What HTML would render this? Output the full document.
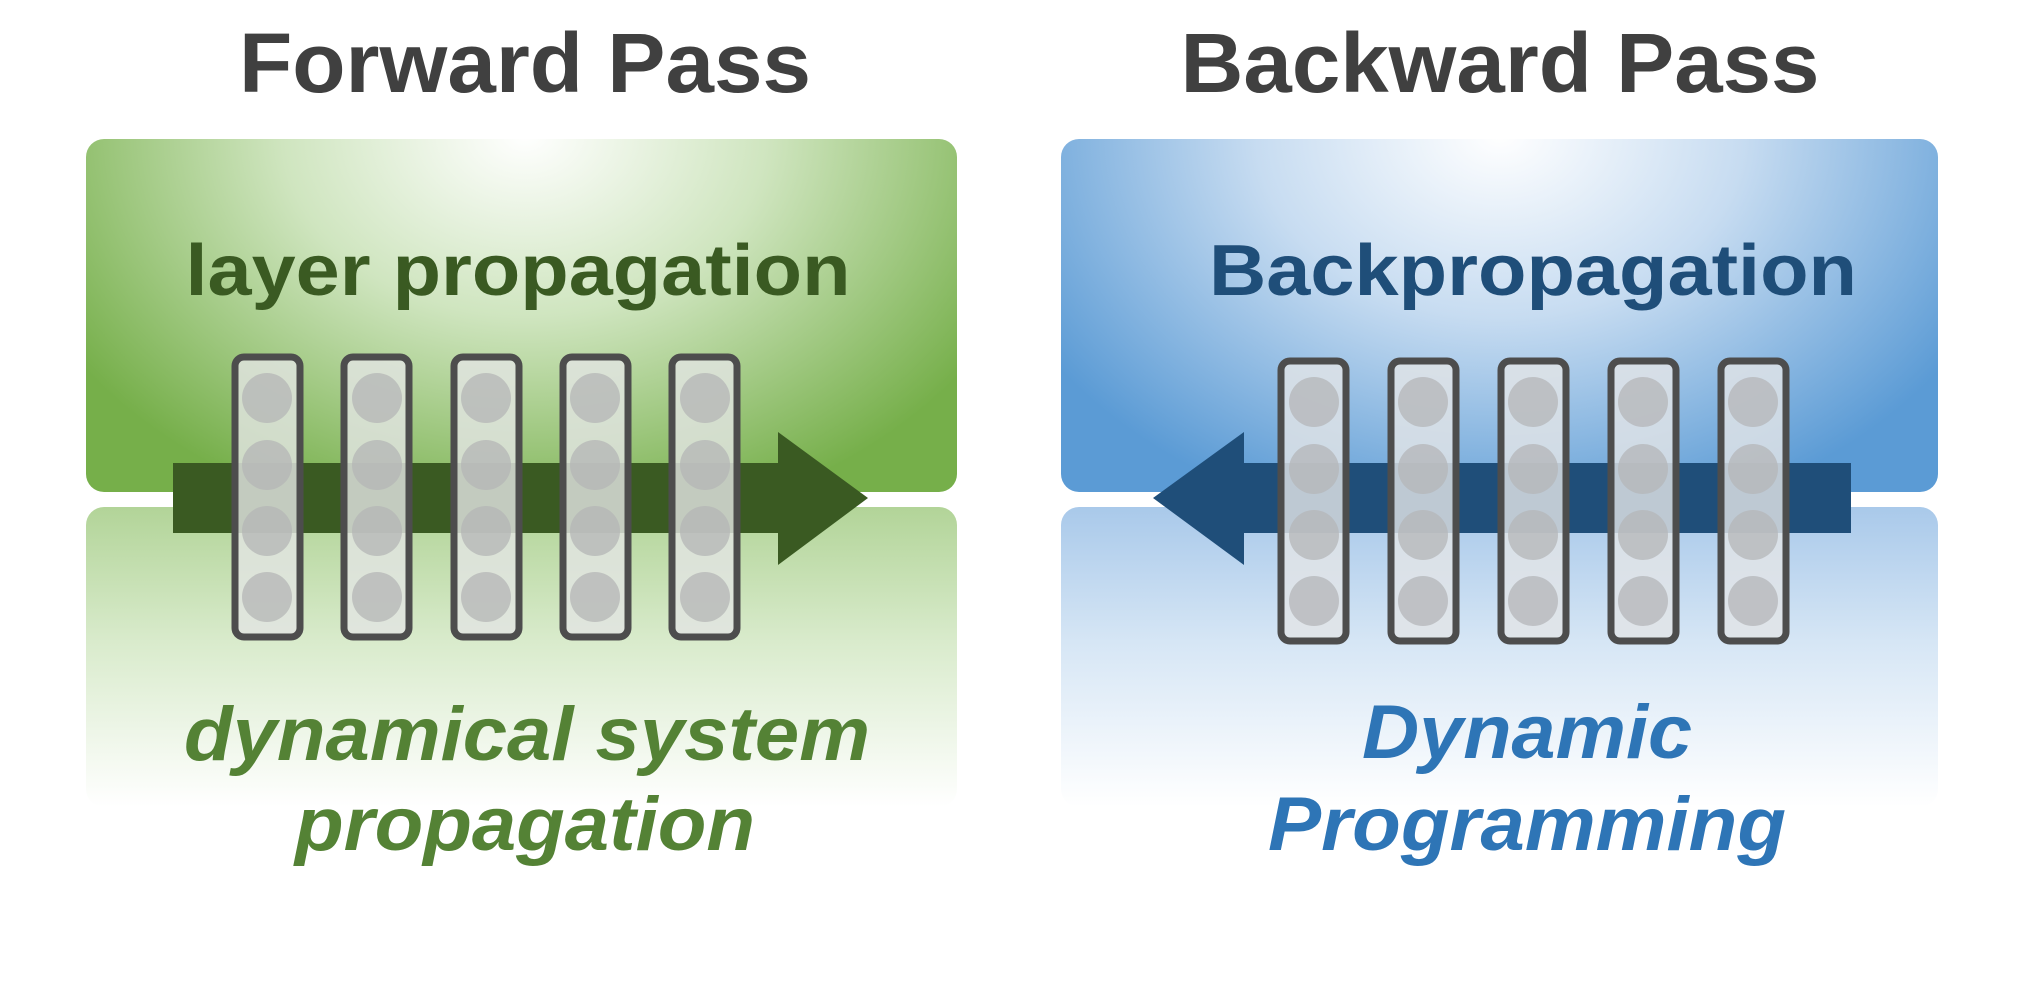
<!DOCTYPE html>
<html><head><meta charset="utf-8"><style>
html,body{margin:0;padding:0;background:#fff;width:2040px;height:996px;overflow:hidden}
svg{display:block}
text{font-family:"Liberation Sans",Arial,sans-serif;font-weight:bold}
</style></head><body>
<svg width="2040" height="996" viewBox="0 0 2040 996" xmlns="http://www.w3.org/2000/svg">
<defs>
<radialGradient id="gtop" gradientUnits="userSpaceOnUse" cx="525" cy="135" r="540" gradientTransform="translate(525 135) scale(1 0.75) translate(-525 -135)">
<stop offset="0" stop-color="#ffffff"/><stop offset="0.45" stop-color="#cfe5bf"/><stop offset="1" stop-color="#76af4a"/></radialGradient>
<linearGradient id="gbot" x1="0" y1="0" x2="0" y2="1">
<stop offset="0" stop-color="#b2d498"/><stop offset="0.45" stop-color="#d9ebcc"/><stop offset="1" stop-color="#ffffff"/></linearGradient>
<radialGradient id="btop" gradientUnits="userSpaceOnUse" cx="1500" cy="135" r="540" gradientTransform="translate(1500 135) scale(1 0.75) translate(-1500 -135)">
<stop offset="0" stop-color="#ffffff"/><stop offset="0.45" stop-color="#c7dcf1"/><stop offset="1" stop-color="#5b9bd5"/></radialGradient>
<linearGradient id="bbot" x1="0" y1="0" x2="0" y2="1">
<stop offset="0" stop-color="#a9c9ea"/><stop offset="0.45" stop-color="#d6e6f5"/><stop offset="1" stop-color="#ffffff"/></linearGradient>
</defs>

<text x="525" y="92" font-size="84" fill="#404040" text-anchor="middle" textLength="572" lengthAdjust="spacingAndGlyphs">Forward Pass</text>
<text x="1500" y="92" font-size="84" fill="#404040" text-anchor="middle" textLength="639" lengthAdjust="spacingAndGlyphs">Backward Pass</text>

<rect x="86" y="139" width="871" height="353" rx="18" fill="url(#gtop)"/>
<rect x="86" y="507" width="871" height="300" rx="18" fill="url(#gbot)"/>
<rect x="1061" y="139" width="877" height="353" rx="18" fill="url(#btop)"/>
<rect x="1061" y="507" width="877" height="300" rx="18" fill="url(#bbot)"/>

<text x="518" y="295" font-size="72" fill="#3a5a22" text-anchor="middle" textLength="665" lengthAdjust="spacingAndGlyphs">layer propagation</text>
<text x="1533" y="295" font-size="72" fill="#1f4e79" text-anchor="middle" textLength="648" lengthAdjust="spacingAndGlyphs">Backpropagation</text>

<polygon points="173,463 778,463 778,432 868,498 778,565 778,533 173,533" fill="#3a5a22"/>
<polygon points="1851,463 1244,463 1244,432 1153,498 1244,565 1244,533 1851,533" fill="#1f4e79"/>

<g stroke="#4d4d4d" stroke-width="7" fill="#e2e4e2" fill-opacity="0.82">
<rect x="235" y="357" width="65" height="280" rx="9"/>
<rect x="344" y="357" width="65" height="280" rx="9"/>
<rect x="454" y="357" width="65" height="280" rx="9"/>
<rect x="563" y="357" width="65" height="280" rx="9"/>
<rect x="672" y="357" width="65" height="280" rx="9"/>
</g>
<g fill="#b4b6b6" fill-opacity="0.75">
<circle cx="267" cy="398" r="25"/><circle cx="267" cy="465" r="25"/><circle cx="267" cy="531" r="25"/><circle cx="267" cy="597" r="25"/>
<circle cx="377" cy="398" r="25"/><circle cx="377" cy="465" r="25"/><circle cx="377" cy="531" r="25"/><circle cx="377" cy="597" r="25"/>
<circle cx="486" cy="398" r="25"/><circle cx="486" cy="465" r="25"/><circle cx="486" cy="531" r="25"/><circle cx="486" cy="597" r="25"/>
<circle cx="595" cy="398" r="25"/><circle cx="595" cy="465" r="25"/><circle cx="595" cy="531" r="25"/><circle cx="595" cy="597" r="25"/>
<circle cx="705" cy="398" r="25"/><circle cx="705" cy="465" r="25"/><circle cx="705" cy="531" r="25"/><circle cx="705" cy="597" r="25"/>
</g>

<g stroke="#4d4d4d" stroke-width="7" fill="#e2e4e6" fill-opacity="0.82">
<rect x="1281" y="361" width="65" height="280" rx="9"/>
<rect x="1391" y="361" width="65" height="280" rx="9"/>
<rect x="1501" y="361" width="65" height="280" rx="9"/>
<rect x="1611" y="361" width="65" height="280" rx="9"/>
<rect x="1721" y="361" width="65" height="280" rx="9"/>
</g>
<g fill="#b4b6b8" fill-opacity="0.75">
<circle cx="1314" cy="402" r="25"/><circle cx="1314" cy="469" r="25"/><circle cx="1314" cy="535" r="25"/><circle cx="1314" cy="601" r="25"/>
<circle cx="1423" cy="402" r="25"/><circle cx="1423" cy="469" r="25"/><circle cx="1423" cy="535" r="25"/><circle cx="1423" cy="601" r="25"/>
<circle cx="1533" cy="402" r="25"/><circle cx="1533" cy="469" r="25"/><circle cx="1533" cy="535" r="25"/><circle cx="1533" cy="601" r="25"/>
<circle cx="1643" cy="402" r="25"/><circle cx="1643" cy="469" r="25"/><circle cx="1643" cy="535" r="25"/><circle cx="1643" cy="601" r="25"/>
<circle cx="1753" cy="402" r="25"/><circle cx="1753" cy="469" r="25"/><circle cx="1753" cy="535" r="25"/><circle cx="1753" cy="601" r="25"/>
</g>

<g font-style="italic" font-size="76" text-anchor="middle">
<text x="527" y="760" fill="#548235" textLength="686" lengthAdjust="spacingAndGlyphs">dynamical system</text>
<text x="525" y="850" fill="#548235" textLength="460" lengthAdjust="spacingAndGlyphs">propagation</text>
<text x="1527" y="758" fill="#2e75b6" textLength="330" lengthAdjust="spacingAndGlyphs">Dynamic</text>
<text x="1527" y="850" fill="#2e75b6" textLength="518" lengthAdjust="spacingAndGlyphs">Programming</text>
</g>
</svg>
</body></html>
